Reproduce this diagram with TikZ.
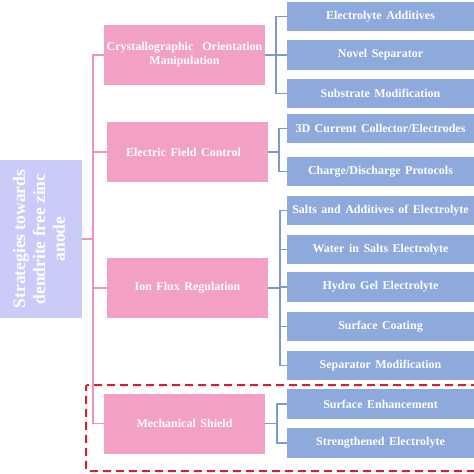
\documentclass[tikz,border=0pt]{standalone}
\usepackage{fontspec}
\setmainfont{Liberation Serif}
\usepackage{graphicx}
\definecolor{rootc}{HTML}{CBCBFA}
\definecolor{pinkc}{HTML}{F2A0C5}
\definecolor{bluec}{HTML}{8EA9DB}
\definecolor{pinkl}{HTML}{EC94BC}
\definecolor{bluel}{HTML}{7E98CF}
\definecolor{redd}{HTML}{D42030}
\newcommand{\boxfont}{\fontsize{12}{14}\selectfont\bfseries\spaceskip=4.5pt plus 1pt}
\tikzset{
  rootbox/.style={fill=rootc, text=white, minimum width=82pt, minimum height=158pt, inner sep=0pt, font=\bfseries},
  pinkbox/.style={fill=pinkc, text=white, minimum width=161pt, minimum height=60pt, inner sep=2pt, align=center, font=\boxfont},
  bluebox/.style={fill=bluec, text=white, minimum width=187pt, minimum height=29.5pt, inner sep=0pt, font=\boxfont},
  pkline/.style={draw=pinkl, line width=1.5pt},
  blline/.style={draw=bluel, line width=1.5pt},
  shieldbox/.style={draw=redd, line width=2pt, dash pattern=on 8pt off 5pt, rounded corners=2pt}
}
\begin{document}
\begin{tikzpicture}[x=1pt,y=-1pt]
\useasboundingbox (0,0) rectangle (474,474);
% root
\node[rootbox] (root) at (41,239) {\rotatebox{90}{\fontsize{17.5}{20}\selectfont\bfseries\begin{tabular}{@{}c@{}}Strategies towards\\dendrite free zinc\\anode\end{tabular}}};
% pink
\node[pinkbox] (cry) at (184.5,55) {Crystallographic~~Orientation\\Manipulation};
\node[pinkbox] (ele) at (187.5,152) {Electric Field Control\hspace*{8pt}};
\node[pinkbox] (ion) at (187.5,288) {Ion Flux Regulation};
\node[pinkbox] (mec) at (184.5,423.5) {Mechanical Shield};
% blue
\node[bluebox] (b1) at (380.5,16.5) {Electrolyte Additives};
\node[bluebox] (b2) at (380.5,55) {Novel Separator};
\node[bluebox] (b3) at (380.5,93.5) {Substrate Modification};
\node[bluebox] (b4) at (380.5,128.5) {3D Current Collector/Electrodes};
\node[bluebox] (b5) at (380.5,171.5) {Charge/Discharge Protocols};
\node[bluebox] (b6) at (380.5,210.5) {Salts and Additives of Electrolyte};
\node[bluebox] (b7) at (380.5,249.5) {Water in Salts Electrolyte};
\node[bluebox] (b8) at (380.5,287) {Hydro Gel Electrolyte};
\node[bluebox] (b9) at (380.5,326.5) {Surface Coating};
\node[bluebox] (b10) at (380.5,365.5) {Separator Modification};
\node[bluebox] (b11) at (380.5,404) {Surface Enhancement};
\node[bluebox] (b12) at (380.5,443) {Strengthened Electrolyte};
% trunk
\draw[pkline] (cry.west) -- ++(-11,0) |- (root.east);
\draw[pkline] (ele.west) -- ++(-14,0) |- (root.east);
\draw[pkline] (ion.west) -- ++(-14,0) |- (root.east);
\draw[pkline] (mec.west) -- ++(-11,0) |- (root.east);
% brackets
\foreach \b in {b1,b2,b3} \draw[blline] (\b.west) -- ++(-11,0) |- (cry.east);
\foreach \b in {b4,b5} \draw[blline] (\b.west) -- ++(-8,0) |- (ele.east);
\foreach \b in {b6,b7,b8,b9,b10} \draw[blline] (\b.west) -- ++(-7,0) |- (ion.east);
\foreach \b in {b11,b12} \draw[blline] (\b.west) -- ++(-10,0) |- (mec.east);
% shield box
\node[shieldbox, minimum width=395pt, minimum height=86pt, anchor=north west] (shield) at (85,384) {};
\end{tikzpicture}
\end{document}
